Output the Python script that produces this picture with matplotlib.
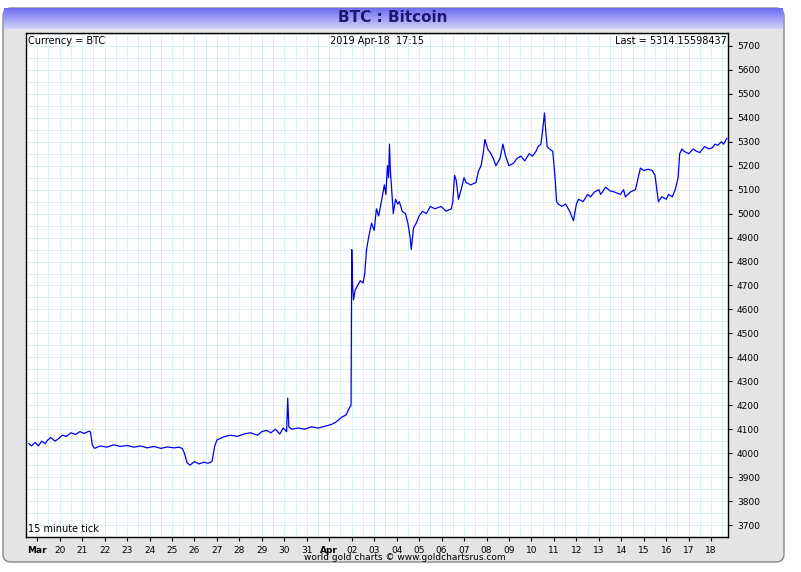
import matplotlib
matplotlib.use("Agg")
import matplotlib.pyplot as plt
import numpy as np
from matplotlib.patches import FancyBboxPatch
from matplotlib.colors import LinearSegmentedColormap

# x in days (label "Mar" = day 0 = Mar 19)
days = [-0.38,-0.25,-0.1,0.05,0.2,0.35,0.47,0.6,0.8,1.0,
        1.13,1.3,1.5,1.7,1.9,2.1,2.3,2.37,2.45,2.55,
        2.8,3.1,3.4,3.7,4.0,4.3,4.6,4.9,5.2,5.5,
        5.8,6.1,6.3,6.45,6.55,6.67,6.8,7.0,7.2,7.4,
        7.6,7.78,7.9,8.0,8.3,8.6,8.9,9.2,9.5,9.8,
        10.0,10.22,10.4,10.6,10.8,10.95,11.1,11.15,11.2,11.33,
        11.6,11.9,12.2,12.5,12.8,13.1,13.3,13.55,13.75,13.9,
        13.97,14.0,14.04,14.08,14.15,14.26,14.38,14.5,14.58,14.66,
        14.75,14.88,15.0,15.1,15.2,15.32,15.45,15.52,15.59,15.64,
        15.68,15.72,15.85,15.95,16.05,16.12,16.25,16.39,16.5,16.6,
        16.65,16.75,16.87,17.0,17.15,17.32,17.5,17.7,17.98,18.2,
        18.43,18.5,18.58,18.65,18.75,18.87,19.0,19.09,19.3,19.53,
        19.65,19.76,19.85,19.93,20.05,20.2,20.3,20.42,20.6,20.73,
        20.85,21.0,21.2,21.35,21.53,21.7,21.9,22.05,22.2,22.3,
        22.42,22.5,22.58,22.64,22.7,22.8,22.95,23.05,23.12,23.2,
        23.35,23.52,23.7,23.87,24.0,24.1,24.3,24.5,24.63,24.8,
        25.0,25.08,25.3,25.5,25.7,25.96,26.1,26.18,26.4,26.63,
        26.85,27.0,27.2,27.38,27.5,27.58,27.65,27.8,28.0,28.1,
        28.27,28.4,28.53,28.6,28.7,28.8,29.0,29.2,29.35,29.5,
        29.7,29.9,30.05,30.17,30.3,30.45,30.55,30.7]
vals = [4040,4030,4045,4030,4050,4040,4055,4065,4050,4065,
        4075,4070,4085,4078,4090,4082,4092,4088,4035,4020,
        4030,4025,4035,4028,4032,4025,4030,4022,4028,4020,
        4026,4022,4025,4020,4000,3960,3950,3965,3955,3962,
        3958,3965,4030,4055,4068,4075,4070,4080,4085,4075,
        4090,4095,4085,4100,4080,4105,4090,4230,4110,4100,
        4105,4100,4110,4105,4112,4120,4130,4150,4160,4190,
        4200,4850,4700,4640,4680,4700,4720,4710,4750,4850,
        4900,4960,4930,5020,4990,5050,5120,5080,5200,5150,
        5290,5180,5000,5060,5040,5050,5010,5000,4960,4900,
        4850,4940,4960,4990,5010,5000,5030,5020,5030,5010,
        5020,5050,5160,5140,5060,5100,5150,5130,5120,5130,
        5180,5200,5250,5310,5270,5250,5230,5200,5230,5290,
        5240,5200,5210,5230,5240,5220,5250,5240,5260,5280,
        5290,5350,5420,5340,5280,5270,5260,5150,5050,5040,
        5030,5040,5010,4970,5040,5060,5050,5080,5070,5090,
        5100,5080,5110,5095,5090,5080,5100,5070,5090,5100,
        5190,5180,5185,5180,5160,5100,5050,5070,5060,5080,
        5070,5100,5150,5250,5270,5260,5250,5270,5260,5255,
        5280,5270,5275,5290,5285,5300,5290,5314]

xlabels = ["Mar","20","21","22","23","24","25","26","27","28","29","30","31","Apr","02","03","04","05","06","07","08","09","10","11","12","13","14","15","16","17","18"]
yticks = list(range(3700, 5800, 100))

W, H = 801, 572
fig = plt.figure(figsize=(W/100, H/100), dpi=100)
fig.patch.set_facecolor("white")
bg = fig.add_axes([0,0,1,1]); bg.set_xlim(0,W); bg.set_ylim(H,0); bg.axis("off")
bg.add_patch(FancyBboxPatch((3,8),W-20,H-18,boxstyle="round,pad=0,rounding_size=8",fc="#e4e4e4",ec="#888888",lw=1))
grad = np.linspace(0,1,30).reshape(-1,1)
cm = LinearSegmentedColormap.from_list("g",["#6e6ef0","#d0d0fa"])
bg.imshow(grad, extent=(4,W-18,29,8), cmap=cm, aspect="auto", zorder=2)
bg.text(393,18,"BTC : Bitcoin",ha="center",va="center",fontsize=11,fontweight="bold",color="#1a1a6e",zorder=3)
bg.text(405,558,"world gold charts © www.goldchartsrus.com",ha="center",va="center",fontsize=6.5)

ax = fig.add_axes([26/W, 1-537/H, (728-26)/W, (537-33)/H])
ax.set_facecolor("white")
ax.plot(days, vals, color="#0000ee", lw=0.9)
ax.set_xlim(-0.38, 30.75)
ax.set_ylim(3654, 5754)
ax.set_yticks(yticks)
ax.set_yticks(range(3650,5800,100), minor=True)
ax.yaxis.tick_right()
ax.tick_params(axis="y", labelsize=6.5, length=3, direction="out")
ax.set_xticks(np.arange(len(xlabels)))
ax.set_xticklabels(xlabels, fontsize=6.5)
for t, l in zip(ax.get_xticklabels(), xlabels):
    if l in ("Mar","Apr"): t.set_fontweight("bold")
ax.tick_params(axis="x", length=3)
ax.set_xticks(np.arange(-0.5,31,0.5), minor=True)
ax.grid(True, which="both", color="#d8ecf2", lw=0.6)
ax.tick_params(which="minor", length=0)
for s in ax.spines.values(): s.set_color("black"); s.set_linewidth(1)
ax.text(0.003,0.995,"Currency = BTC",transform=ax.transAxes,va="top",fontsize=7)
ax.text(0.5,0.995,"2019 Apr-18  17:15",transform=ax.transAxes,va="top",ha="center",fontsize=7)
ax.text(0.998,0.995,"Last = 5314.15598437",transform=ax.transAxes,va="top",ha="right",fontsize=7)
ax.text(0.003,0.005,"15 minute tick",transform=ax.transAxes,va="bottom",fontsize=7)
fig.savefig("out.png", dpi=100, facecolor="white")
